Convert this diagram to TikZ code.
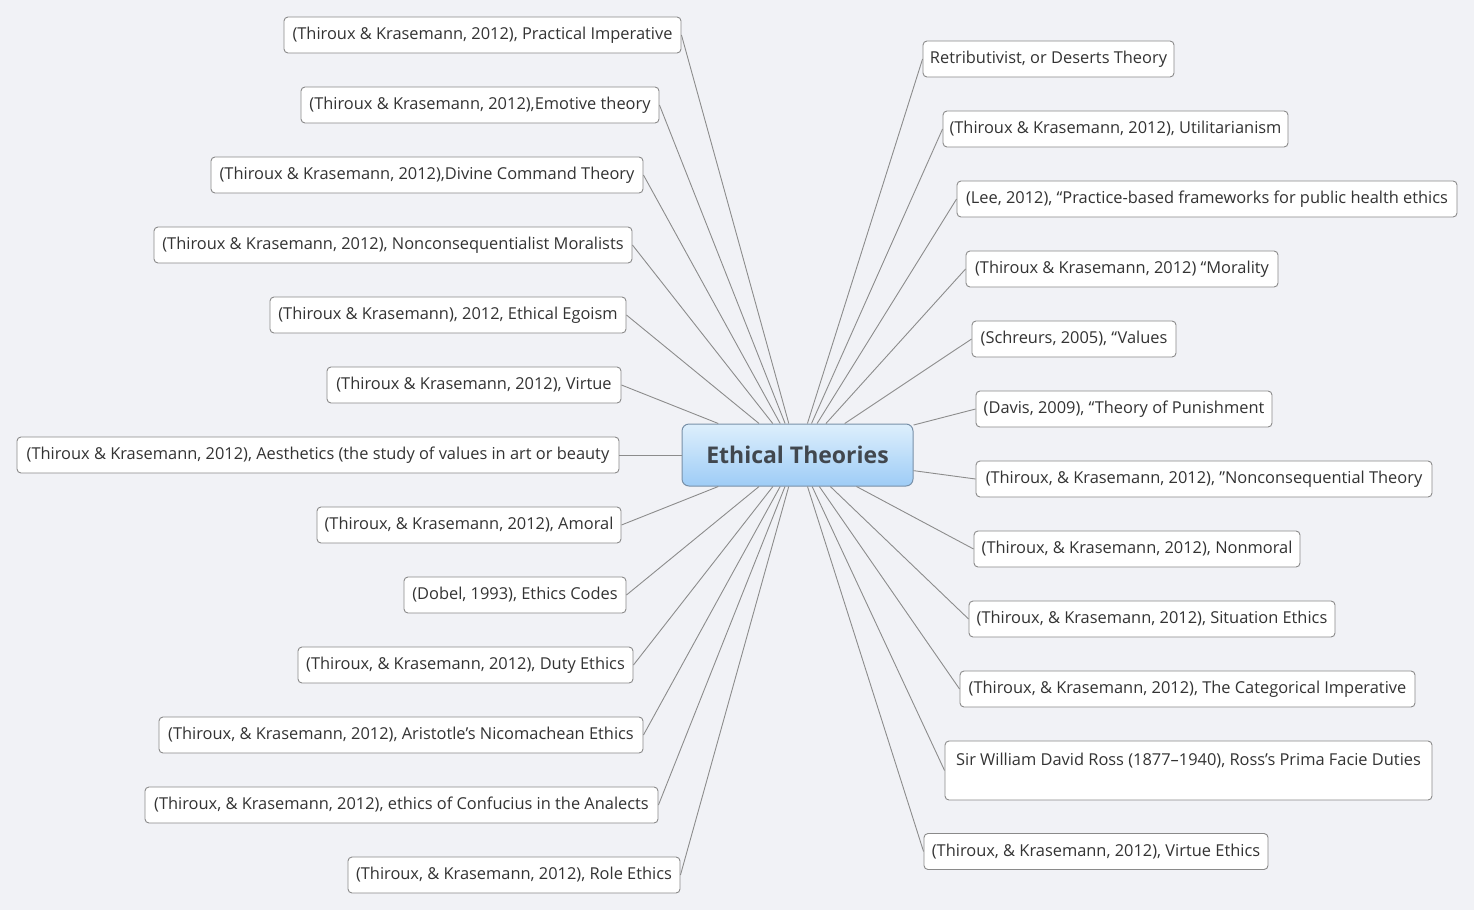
\documentclass[tikz,border=0pt]{standalone}
\usepackage{fontspec}
\setmainfont{Open Sans}
\definecolor{bg}{HTML}{F1F2F6}
\definecolor{boxline}{HTML}{8A8A8A}
\definecolor{edgecol}{HTML}{8C8C8C}
\definecolor{txt}{HTML}{333333}
\definecolor{ctop}{HTML}{DDEFFC}
\definecolor{cbot}{HTML}{9ECCF6}
\definecolor{cline}{HTML}{7890A8}
\definecolor{ctxt}{HTML}{41474E}
\tikzset{
  leaf/.style={draw=boxline, line width=0.9, fill=white, rounded corners=4,
    minimum height=36, inner sep=0, text=txt,
    font=\fontsize{16.4}{20}\selectfont},
  central/.style={draw=cline, line width=1, rounded corners=7,
    top color=ctop, bottom color=cbot, minimum width=231, minimum height=62,
    inner sep=0, text=ctxt, font=\fontsize{23}{28}\selectfont\bfseries},
  edge/.style={draw=edgecol, line width=0.9}
}
\begin{document}
\begin{tikzpicture}[x=1pt,y=-1pt]
\fill[bg] (0,0) rectangle (1474,910);
\useasboundingbox (0,0) rectangle (1474,910);

\node[central] (c) at (797.5,455) {Ethical Theories};

% left side
\node[leaf, minimum width=397] (l1) at (482.5,35) {(Thiroux \& Krasemann, 2012), Practical Imperative};
\node[leaf, minimum width=358] (l2) at (480,105) {(Thiroux \& Krasemann, 2012),Emotive theory};
\node[leaf, minimum width=432] (l3) at (427,175) {(Thiroux \& Krasemann, 2012),Divine Command Theory};
\node[leaf, minimum width=478] (l4) at (393,245) {(Thiroux \& Krasemann, 2012), Nonconsequentialist Moralists};
\node[leaf, minimum width=356] (l5) at (448,315) {(Thiroux \& Krasemann), 2012, Ethical Egoism};
\node[leaf, minimum width=294] (l6) at (474,385) {(Thiroux \& Krasemann, 2012), Virtue};
\node[leaf, minimum width=602] (l7) at (318,455) {(Thiroux \& Krasemann, 2012), Aesthetics (the study of values in art or beauty};
\node[leaf, minimum width=304] (l8) at (469,525) {(Thiroux, \& Krasemann, 2012), Amoral};
\node[leaf, minimum width=222] (l9) at (515,595) {(Dobel, 1993), Ethics Codes};
\node[leaf, minimum width=335] (l10) at (465.5,665) {(Thiroux, \& Krasemann, 2012), Duty Ethics};
\node[leaf, minimum width=484] (l11) at (401,735) {(Thiroux, \& Krasemann, 2012), Aristotle’s Nicomachean Ethics};
\node[leaf, minimum width=513] (l12) at (401.5,805) {(Thiroux, \& Krasemann, 2012), ethics of Confucius in the Analects};
\node[leaf, minimum width=332] (l13) at (514,875) {(Thiroux, \& Krasemann, 2012), Role Ethics};

% right side
\node[leaf, minimum width=251] (r1) at (1048.5,59) {Retributivist, or Deserts Theory};
\node[leaf, minimum width=345] (r2) at (1115.5,129) {(Thiroux \& Krasemann, 2012), Utilitarianism};
\node[leaf, minimum width=500] (r3) at (1207,199) {(Lee, 2012), “Practice-based frameworks for public health ethics};
\node[leaf, minimum width=312] (r4) at (1122,269) {(Thiroux \& Krasemann, 2012) “Morality};
\node[leaf, minimum width=204] (r5) at (1074,339) {(Schreurs, 2005), “Values};
\node[leaf, minimum width=296] (r6) at (1124,409) {(Davis, 2009), “Theory of Punishment};
\node[leaf, minimum width=456] (r7) at (1204,479) {(Thiroux, \& Krasemann, 2012), \symbol{34}Nonconsequential Theory};
\node[leaf, minimum width=326] (r8) at (1137,549) {(Thiroux, \& Krasemann, 2012), Nonmoral};
\node[leaf, minimum width=366] (r9) at (1152,619) {(Thiroux, \& Krasemann, 2012), Situation Ethics};
\node[leaf, minimum width=455] (r10) at (1187.5,689) {(Thiroux, \& Krasemann, 2012), The Categorical Imperative};
\node[leaf, minimum width=487, minimum height=59, align=center] (r11) at (1188.5,770.5) {Sir William David Ross (1877–1940), Ross’s Prima Facie Duties\\[2pt]\mbox{}};
\node[leaf, minimum width=344] (r12) at (1096,851.5) {(Thiroux, \& Krasemann, 2012), Virtue Ethics};

\foreach \n in {l1,l2,l3,l4,l5,l6,l7,l8,l9,l10,l11,l12,l13}
  \draw[edge] (c) -- (\n.east);
\foreach \n in {r1,r2,r3,r4,r5,r6,r7,r8,r9,r10,r11,r12}
  \draw[edge] (c) -- (\n.west);
\end{tikzpicture}
\end{document}
